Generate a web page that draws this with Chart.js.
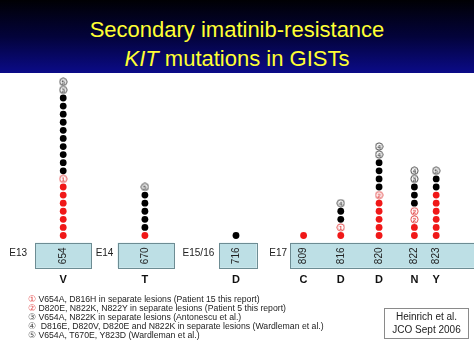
<!DOCTYPE html>
<html><head><meta charset="utf-8">
<script src="https://cdn.jsdelivr.net/npm/chart.js@4/dist/chart.umd.min.js"></script>
<style>
html,body{margin:0;padding:0;width:474px;height:355px;overflow:hidden;background:#fff;font-family:"Liberation Sans",Arial,sans-serif;}
#wrap{position:absolute;left:0;top:0;width:474px;height:355px;}
#wrap canvas{display:block;}
#title{position:absolute;left:0;top:0;width:474px;height:73px;background:linear-gradient(#000004 0%,#03033a 50%,#0b0b88 100%);color:#ffff33;text-align:center;font-size:22px;line-height:29px;z-index:2;}
#title .l1{padding-top:15px;}
#notes{position:absolute;left:28px;top:295px;font-size:8.7px;line-height:9px;color:#222;white-space:pre;z-index:2;}
#notes .r{color:#e04040;}
#notes .g{color:#555;}
#cite{position:absolute;left:384px;top:308px;width:83px;height:27px;border:1px solid #8a8a8a;text-align:center;font-size:10px;line-height:12.5px;color:#222;padding-top:2px;z-index:2;}
</style></head>
<body>
<div id="title"><div class="l1">Secondary imatinib-resistance</div><div><i>KIT</i> mutations in GISTs</div></div>
<div id="wrap"><canvas id="c" width="474" height="355"></canvas></div>
<div id="notes"><span class="r">①</span> V654A, D816H in separate lesions (Patient 15 this report)
<span class="r">②</span> D820E, N822K, N822Y in separate lesions (Patient 5 this report)
<span class="g">③</span> V654A, N822K in separate lesions (Antonescu et al.)
<span class="g">④</span>  D816E, D820V, D820E and N822K in separate lesions (Wardleman et al.)
<span class="g">⑤</span> V654A, T670E, Y823D (Wardleman et al.)</div>
<div id="cite">Heinrich et al.<br>JCO Sept 2006</div>
<script>
// ---- data ----
const sites = ['654','670','716','809','816','820','822','823'];
const residues = ['V','T','D','C','D','D','N','Y'];
const trackPos = [1.0, 3.175, 5.6, 7.4, 8.39, 9.41, 10.35, 10.93];
const redDots = [7,1,0,1,1,5,2,6];
const redRings = [['1'],[],[],[],['1'],['2'],['2','2'],[]];
const blackDots = [10,5,1,0,2,4,3,2];
const greyRings = [['3','5'],['5'],[],[],['4'],['4','4'],['3','4'],['5']];
const exonNames = ['E13','E14','E15/16','E17'];
const exonLabelPos = [-0.2, 2.1, 4.6, 6.725];
const exonStart = [0.25, 2.45, 5.15, 7.05];
const exonEnd = [1.75, 3.95, 6.15, 12];

// ---- build point lists (stacked from bottom) ----
const redPts=[], redRingPts=[], blackPts=[], greyRingPts=[];
sites.forEach((s,i)=>{
  let lvl=1;
  for(let k=0;k<redDots[i];k++) redPts.push({x:trackPos[i],y:lvl++});
  redRings[i].forEach(t=>redRingPts.push({x:trackPos[i],y:lvl++,tag:t}));
  for(let k=0;k<blackDots[i];k++) blackPts.push({x:trackPos[i],y:lvl++});
  greyRings[i].forEach(t=>greyRingPts.push({x:trackPos[i],y:lvl++,tag:t}));
});

const ringCache={};
function ringImg(tag,color){
  const key=tag+color;
  if(ringCache[key]) return ringCache[key];
  const cv=document.createElement('canvas');cv.width=9;cv.height=9;
  const g=cv.getContext('2d');
  g.fillStyle='#fff';g.beginPath();g.arc(4.5,4.5,3.6,0,Math.PI*2);g.fill();
  g.strokeStyle=color;g.lineWidth=0.9;g.stroke();
  g.fillStyle=color;g.font='bold 6px "Liberation Sans",Arial';g.textAlign='center';g.textBaseline='middle';
  g.fillText(tag,4.5,4.9);
  ringCache[key]=cv;return cv;
}

const exonPlugin={
  id:'exons',
  afterDraw(chart){
    const {ctx,chartArea}=chart; const xs=chart.scales.x;
    const top=chartArea.bottom+3, h=25, mid=top+h/2;
    ctx.save();
    exonNames.forEach((n,i)=>{
      const x1=xs.getPixelForValue(exonStart[i]), x2=xs.getPixelForValue(exonEnd[i]);
      ctx.fillStyle='#bddfe5';ctx.fillRect(x1,top,x2-x1,h);
      ctx.strokeStyle='#6d8c93';ctx.lineWidth=1;ctx.strokeRect(Math.round(x1)+0.5,Math.round(top)+0.5,Math.round(x2-x1),h);
      ctx.fillStyle='#222';ctx.font='10px "Liberation Sans",Arial';ctx.textAlign='center';ctx.textBaseline='middle';
      ctx.fillText(n,xs.getPixelForValue(exonLabelPos[i]),mid-2);
    });
    sites.forEach((s,i)=>{
      ctx.save();
      ctx.translate(xs.getPixelForValue(trackPos[i]),mid+0.5);
      ctx.rotate(-Math.PI/2);
      ctx.fillStyle='#222';ctx.font='10px "Liberation Sans",Arial';ctx.textAlign='center';ctx.textBaseline='middle';
      ctx.fillText(s,0,0);
      ctx.restore();
    });
    ctx.restore();
  }
};

new Chart(document.getElementById('c'),{
  type:'scatter',
  data:{datasets:[
    {data:redPts,pointStyle:'circle',pointRadius:3.4,backgroundColor:'#f01818',borderWidth:0},
    {data:redRingPts,pointStyle:c=>ringImg(c.raw?c.raw.tag:'1','#e03a3a')},
    {data:blackPts,pointStyle:'circle',pointRadius:3.4,backgroundColor:'#000',borderWidth:0},
    {data:greyRingPts,pointStyle:c=>ringImg(c.raw?c.raw.tag:'1','#333')}
  ]},
  options:{
    responsive:false,animation:false,devicePixelRatio:1,
    layout:{padding:{top:76,bottom:34,left:0,right:0}},
    plugins:{legend:{display:false},tooltip:{enabled:false}},
    scales:{
      x:{type:'linear',min:-0.55,max:11.3,grid:{display:false,drawTicks:false},border:{display:false},
        afterBuildTicks:sc=>{sc.ticks=trackPos.map(v=>({value:v}));},
        ticks:{autoSkip:false,maxRotation:0,minRotation:0,padding:34,color:'#111',
          font:{family:'"Liberation Sans", Arial',size:11,weight:'bold'},
          callback:(v,i)=>residues[i]}},
      y:{display:false,min:0.47,max:20.72}
    }
  },
  plugins:[exonPlugin]
});
</script>
</body></html>
